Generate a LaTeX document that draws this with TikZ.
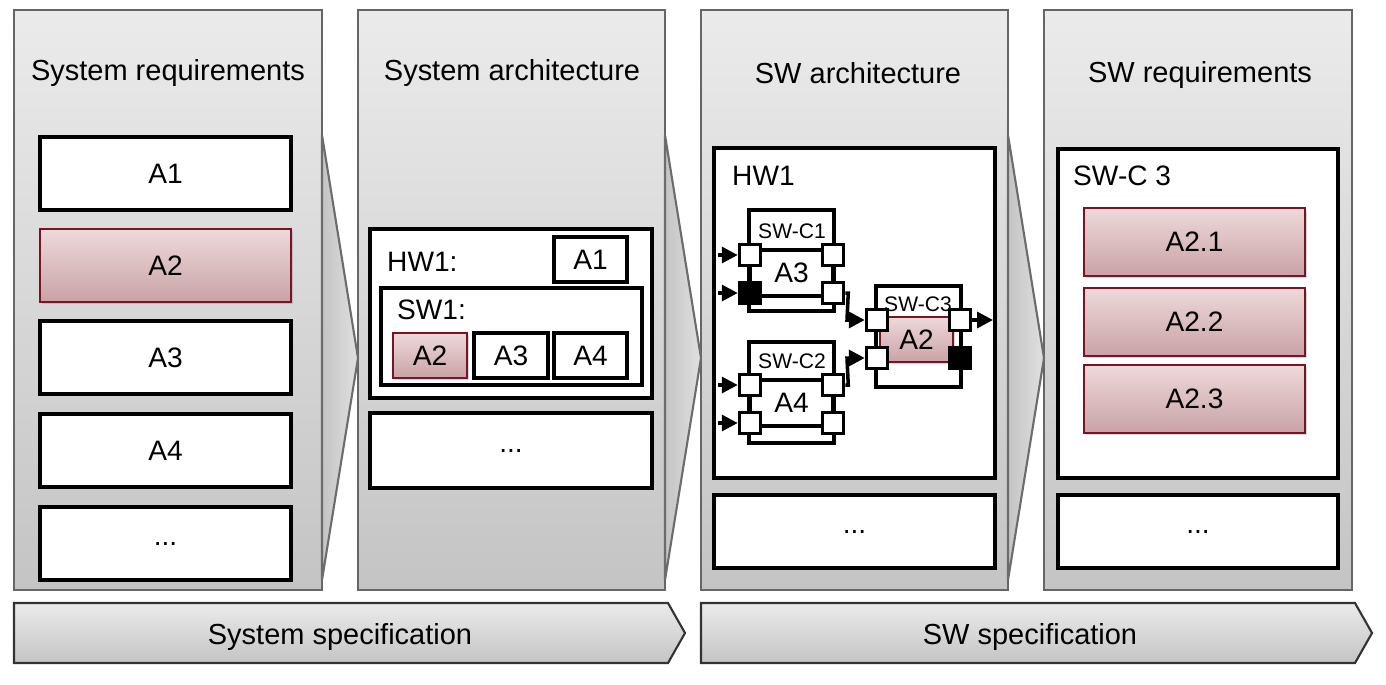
\documentclass[tikz,border=0pt]{standalone}
\usepackage{fontspec}
\setmainfont{Liberation Sans}
\usetikzlibrary{arrows.meta,shadows}
\definecolor{colgrayA}{HTML}{EBEBEB}
\definecolor{colgrayB}{HTML}{C4C4C4}
\definecolor{pinkA}{HTML}{EED9DA}
\definecolor{pinkB}{HTML}{C9A2A6}
\definecolor{darkred}{HTML}{7A1424}
\tikzset{
  col/.style={draw=gray!80!black, line width=1.2pt, top color=colgrayA, bottom color=colgrayB},
  bar/.style={draw=black!80, line width=1.2pt, top color=colgrayA, bottom color=colgrayB},
  chev/.style={draw=gray!85!black, line width=1.2pt, left color=colgrayB, right color=colgrayA!90!gray},
  box/.style={draw=black, line width=2pt, fill=white},
  pbox/.style={draw=darkred, line width=1.2pt, top color=pinkA, bottom color=pinkB, drop shadow={opacity=0.3, shadow xshift=1pt, shadow yshift=-1pt}},
  port/.style={draw=black, line width=2pt, fill=white, minimum size=0.42cm, inner sep=0pt},
  bport/.style={port, fill=black},
  thin/.style={line width=2pt},
  arr/.style={line width=2pt, -{Triangle[length=9pt,width=9pt]}},
  ttl/.style={font=\fontsize{16.5}{19}\selectfont},
  lbl/.style={font=\fontsize{16}{19}\selectfont},
  sml/.style={font=\fontsize{12}{14}\selectfont},
}
% \bx{name}{x1}{y1}{x2}{y2}{style}{text}
\newcommand{\bx}[7]{\node[#6, inner sep=0pt, minimum width={(#4-#2)*0.02cm}, minimum height={(#5-#3)*0.02cm}] (#1) at ({(#2+#4)/2},{(#3+#5)/2}) {#7};}
\begin{document}
\begin{tikzpicture}[x=0.02cm,y=-0.02cm]
\useasboundingbox (0,0) rectangle (1386,684);
% columns
\bx{c1}{14}{10}{322}{590}{col}{}
\bx{c2}{358}{10}{665}{590}{col}{}
\bx{c3}{701}{10}{1008}{590}{col}{}
\bx{c4}{1044}{10}{1352}{590}{col}{}
% chevrons
\foreach \a/\b in {322/358,665/701,1008/1044}{
  \draw[chev] (\a,135) -- (\b,358) -- (\a,580) -- cycle;
}
\node[ttl] (t1) at (168,73) {System requirements};
\node[ttl] (t2) at (512,73) {System architecture};
\node[ttl] (t3) at (858,73) {SW architecture};
\node[ttl] (t4) at (1200,75) {SW requirements};
% column 1
\bx{r1}{40}{137}{291}{210}{box,lbl}{A1}
\bx{r2}{40}{229}{291}{302}{pbox,lbl}{A2}
\bx{r3}{40}{321}{291}{394}{box,lbl}{A3}
\bx{r4}{40}{414}{291}{487}{box,lbl}{A4}
\bx{r5}{40}{507}{291}{580}{box,lbl}{...}
% column 2
\bx{hw}{370}{229}{652}{398}{box}{}
\node[lbl, anchor=west] (hwl) at (381,262) {HW1:};
\bx{sa1}{554}{237}{627}{282}{box,lbl}{A1}
\bx{sw}{381}{288}{642}{385}{box}{}
\node[lbl, anchor=west] (swl) at (391,310) {SW1:};
\bx{sa2}{393}{333}{467}{378}{pbox,lbl}{A2}
\bx{sa3}{474}{333}{548}{378}{box,lbl}{A3}
\bx{sa4}{554}{333}{627}{378}{box,lbl}{A4}
\bx{sdots}{370}{413}{652}{488}{box,lbl}{...}
% column 3
\bx{hw3}{714}{148}{995}{478}{box}{}
\node[lbl, anchor=west] (hw3l) at (726,176) {HW1};
\bx{d3}{714}{495}{995}{568}{box,lbl}{...}
% SW-C1
\bx{c1o}{749}{210}{834}{311}{box,thin}{}
\bx{c1i}{750}{250}{833}{296}{box,thin,lbl}{A3}
\node[sml] (c1l) at (792,231) {SW-C1};
\node[port] (p11) at (750,255) {};
\node[bport] (p12) at (750,293) {};
\node[port] (p13) at (833,255) {};
\node[port] (p14) at (833,293) {};
% SW-C2
\bx{c2o}{749}{342}{834}{443}{box,thin}{}
\bx{c2i}{750}{380}{833}{426}{box,thin,lbl}{A4}
\node[sml] (c2l) at (792,361) {SW-C2};
\node[port] (p21) at (750,385) {};
\node[port] (p22) at (750,423) {};
\node[port] (p23) at (833,385) {};
\node[port] (p24) at (833,423) {};
% SW-C3
\bx{c3o}{876}{286}{961}{387}{box,thin}{}
\node[sml] (c3l) at (918,304) {SW-C3};
\bx{c3i}{880}{317}{953}{362}{pbox,lbl}{A2}
\node[port] (p31) at (877,320) {};
\node[port] (p32) at (877,358) {};
\node[port] (p33) at (960,320) {};
\node[bport] (p34) at (960,358) {};
\coordinate (i11) at (718,255);
\coordinate (i12) at (718,293);
\coordinate (i21) at (718,385);
\coordinate (i22) at (718,423);
\coordinate (o3) at (993,320);
\draw[arr] (i11) -- (p11);
\draw[arr] (i12) -- (p12);
\draw[arr] (i21) -- (p21);
\draw[arr] (i22) -- (p22);
\draw[arr] (p33) -- (o3);
\draw[arr] (p14.east) -- ++(3,0) -- (847,320) -- (p31);
\draw[arr] (p23.east) -- ++(3,0) -- (847,358) -- (p32);
% column 4
\bx{swc}{1058}{149}{1338}{478}{box}{}
\node[lbl, anchor=west] (swcl) at (1067,176) {SW-C 3};
\bx{q1}{1084}{208}{1305}{276}{pbox,lbl}{A2.1}
\bx{q2}{1084}{288}{1305}{356}{pbox,lbl}{A2.2}
\bx{q3}{1084}{365}{1305}{433}{pbox,lbl}{A2.3}
\bx{d4}{1058}{495}{1338}{568}{box,lbl}{...}
% bottom arrows
\draw[bar] (14,603) -- (668,603) -- (685,633) -- (668,663) -- (14,663) -- cycle;
\node[ttl] (bs1) at (340,637) {System specification};
\draw[bar] (701,603) -- (1355,603) -- (1372,633) -- (1355,663) -- (701,663) -- cycle;
\node[ttl] (bs2) at (1030,637) {SW specification};
\end{tikzpicture}
\end{document}
